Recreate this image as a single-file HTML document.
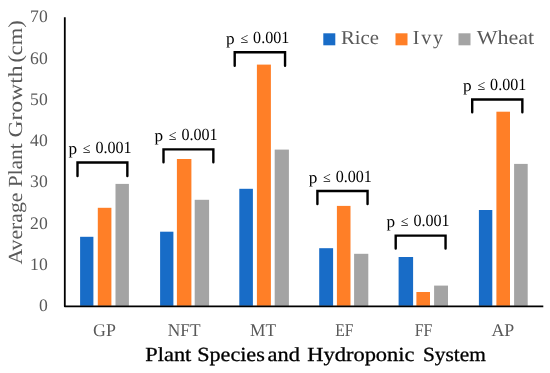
<!DOCTYPE html>
<html lang="en"><head><meta charset="utf-8"><title>Average Plant Growth</title>
<style>html,body{margin:0;padding:0;background:#fff}body{width:550px;height:373px;overflow:hidden}svg{display:block}text{font-family:"Liberation Serif","DejaVu Serif",serif;stroke-width:.3px;text-rendering:geometricPrecision}text.xt{stroke:#000}</style>
</head><body>
<svg width="550" height="373" viewBox="0 0 550 373">
<rect width="550" height="373" fill="#fff"/>
<rect x="80.10" y="236.80" width="13.30" height="69.00" fill="#186cc7"/>
<rect x="97.80" y="207.80" width="13.60" height="98.00" fill="#ff7f27"/>
<rect x="115.50" y="183.90" width="13.40" height="121.90" fill="#a4a4a4"/>
<rect x="160.10" y="231.70" width="13.30" height="74.10" fill="#186cc7"/>
<rect x="176.90" y="159.00" width="14.50" height="146.80" fill="#ff7f27"/>
<rect x="194.70" y="199.80" width="14.40" height="106.00" fill="#a4a4a4"/>
<rect x="239.30" y="188.80" width="13.60" height="117.00" fill="#186cc7"/>
<rect x="256.90" y="64.60" width="14.00" height="241.20" fill="#ff7f27"/>
<rect x="274.70" y="149.60" width="14.20" height="156.20" fill="#a4a4a4"/>
<rect x="319.20" y="248.20" width="13.90" height="57.60" fill="#186cc7"/>
<rect x="336.90" y="205.90" width="13.60" height="99.90" fill="#ff7f27"/>
<rect x="354.10" y="253.80" width="14.20" height="52.00" fill="#a4a4a4"/>
<rect x="398.60" y="257.00" width="14.50" height="48.80" fill="#186cc7"/>
<rect x="416.40" y="292.00" width="13.60" height="13.80" fill="#ff7f27"/>
<rect x="434.10" y="285.60" width="13.90" height="20.20" fill="#a4a4a4"/>
<rect x="478.90" y="210.00" width="13.40" height="95.80" fill="#186cc7"/>
<rect x="496.40" y="111.70" width="13.60" height="194.10" fill="#ff7f27"/>
<rect x="514.10" y="163.90" width="13.60" height="141.90" fill="#a4a4a4"/>
<path d="M64.8,17.2 V306.3 H543.3" fill="none" stroke="#000" stroke-width="1.8" stroke-linejoin="round"/>
<text x="47.7" y="311.10" font-size="17.6" fill="#595959" text-anchor="end">0</text>
<text x="47.7" y="269.84" font-size="17.6" fill="#595959" text-anchor="end">10</text>
<text x="47.7" y="228.58" font-size="17.6" fill="#595959" text-anchor="end">20</text>
<text x="47.7" y="187.32" font-size="17.6" fill="#595959" text-anchor="end">30</text>
<text x="47.7" y="146.06" font-size="17.6" fill="#595959" text-anchor="end">40</text>
<text x="47.7" y="104.80" font-size="17.6" fill="#595959" text-anchor="end">50</text>
<text x="47.7" y="63.54" font-size="17.6" fill="#595959" text-anchor="end">60</text>
<text x="47.7" y="22.28" font-size="17.6" fill="#595959" text-anchor="end">70</text>
<text x="104.5" y="335.8" font-size="17.9" fill="#595959" text-anchor="middle">GP</text>
<text x="184.2" y="335.8" font-size="17.9" fill="#595959" text-anchor="middle" textLength="32.8" lengthAdjust="spacingAndGlyphs">NFT</text>
<text x="263.1" y="335.8" font-size="17.9" fill="#595959" text-anchor="middle" textLength="26.0" lengthAdjust="spacingAndGlyphs">MT</text>
<text x="344.35" y="335.8" font-size="17.9" fill="#595959" text-anchor="middle" textLength="18.3" lengthAdjust="spacingAndGlyphs">EF</text>
<text x="423.55" y="335.8" font-size="17.9" fill="#595959" text-anchor="middle" textLength="17.8" lengthAdjust="spacingAndGlyphs">FF</text>
<text x="502.9" y="335.8" font-size="17.9" fill="#595959" text-anchor="middle">AP</text>
<path d="M77.50,176.10 V162.55 H127.35 V176.10" fill="none" stroke="#000" stroke-width="2.4" stroke-linejoin="miter" stroke-linecap="round"/>
<path d="M163.50,162.20 V149.35 H213.35 V162.20" fill="none" stroke="#000" stroke-width="2.4" stroke-linejoin="miter" stroke-linecap="round"/>
<path d="M234.70,65.70 V52.25 H285.05 V65.70" fill="none" stroke="#000" stroke-width="2.4" stroke-linejoin="miter" stroke-linecap="round"/>
<path d="M317.40,204.10 V191.05 H367.55 V204.10" fill="none" stroke="#000" stroke-width="2.4" stroke-linejoin="miter" stroke-linecap="round"/>
<path d="M395.70,248.50 V235.65 H445.55 V248.50" fill="none" stroke="#000" stroke-width="2.4" stroke-linejoin="miter" stroke-linecap="round"/>
<path d="M472.20,112.20 V99.45 H522.35 V112.20" fill="none" stroke="#000" stroke-width="2.4" stroke-linejoin="miter" stroke-linecap="round"/>
<text fill="#000" font-size="17.0"><tspan x="68.40" y="154.00" font-size="16.8" textLength="8.6" lengthAdjust="spacingAndGlyphs">p</tspan> <tspan x="82.80" y="152.90" font-size="14.0">≤</tspan> <tspan x="95.40" y="153.00" textLength="36.2" lengthAdjust="spacingAndGlyphs">0.001</tspan></text>
<text fill="#000" font-size="17.0"><tspan x="154.40" y="140.60" font-size="16.8" textLength="8.6" lengthAdjust="spacingAndGlyphs">p</tspan> <tspan x="168.80" y="139.50" font-size="14.0">≤</tspan> <tspan x="181.40" y="139.60" textLength="36.2" lengthAdjust="spacingAndGlyphs">0.001</tspan></text>
<text fill="#000" font-size="17.0"><tspan x="226.10" y="43.60" font-size="16.8" textLength="8.6" lengthAdjust="spacingAndGlyphs">p</tspan> <tspan x="240.50" y="42.50" font-size="14.0">≤</tspan> <tspan x="253.10" y="42.60" textLength="36.2" lengthAdjust="spacingAndGlyphs">0.001</tspan></text>
<text fill="#000" font-size="17.0"><tspan x="308.70" y="183.00" font-size="16.8" textLength="8.6" lengthAdjust="spacingAndGlyphs">p</tspan> <tspan x="323.10" y="181.90" font-size="14.0">≤</tspan> <tspan x="335.70" y="182.00" textLength="36.2" lengthAdjust="spacingAndGlyphs">0.001</tspan></text>
<text fill="#000" font-size="17.0"><tspan x="386.40" y="226.80" font-size="16.8" textLength="8.6" lengthAdjust="spacingAndGlyphs">p</tspan> <tspan x="400.80" y="225.70" font-size="14.0">≤</tspan> <tspan x="413.40" y="225.80" textLength="36.2" lengthAdjust="spacingAndGlyphs">0.001</tspan></text>
<text fill="#000" font-size="17.0"><tspan x="463.10" y="90.80" font-size="16.8" textLength="8.6" lengthAdjust="spacingAndGlyphs">p</tspan> <tspan x="477.50" y="89.70" font-size="14.0">≤</tspan> <tspan x="490.10" y="89.80" textLength="36.2" lengthAdjust="spacingAndGlyphs">0.001</tspan></text>
<rect x="323.3" y="33.3" width="12" height="12" fill="#186cc7"/>
<text x="341.0" y="43.9" font-size="19.6" fill="#595959" textLength="38" lengthAdjust="spacingAndGlyphs">Rice</text>
<rect x="395.5" y="33.3" width="12" height="12" fill="#ff7f27"/>
<text x="412.8" y="43.9" font-size="20" fill="#595959" textLength="30.2" lengthAdjust="spacing">Ivy</text>
<rect x="458.5" y="33.3" width="12" height="12" fill="#a4a4a4"/>
<text x="476.7" y="43.9" font-size="20" fill="#595959" textLength="57.5" lengthAdjust="spacingAndGlyphs">Wheat</text>
<text class="xt" y="361.1" font-size="20" fill="#000"><tspan x="145.3" textLength="46.0" lengthAdjust="spacingAndGlyphs">Plant</tspan> <tspan x="197.2" textLength="67.6" lengthAdjust="spacingAndGlyphs">Species</tspan> <tspan x="267.6" textLength="32.3" lengthAdjust="spacingAndGlyphs">and</tspan> <tspan x="307.2" textLength="107.4" lengthAdjust="spacingAndGlyphs">Hydroponic</tspan> <tspan x="423.0" textLength="62.8" lengthAdjust="spacingAndGlyphs">System</tspan></text>
<text transform="translate(21.8,0) rotate(-90)" font-size="20" fill="#595959"><tspan x="-264.5" y="0" textLength="72.0" lengthAdjust="spacingAndGlyphs">Average</tspan> <tspan x="-187.2" y="0" textLength="43.9" lengthAdjust="spacingAndGlyphs">Plant</tspan> <tspan x="-137.5" y="0" textLength="72.0" lengthAdjust="spacingAndGlyphs">Growth</tspan> <tspan x="-62.6" y="0" textLength="42.3" lengthAdjust="spacingAndGlyphs">(cm)</tspan></text>
</svg>
</body></html>
